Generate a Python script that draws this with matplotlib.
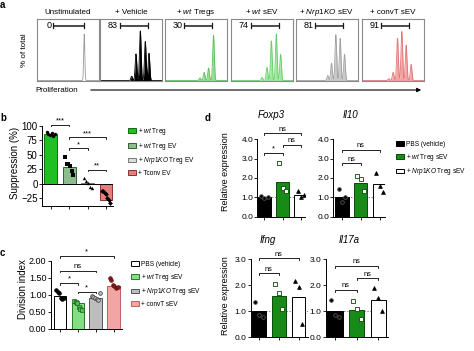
import numpy as np
import matplotlib
matplotlib.use("Agg")
import matplotlib.pyplot as plt
from matplotlib.patches import Patch
from matplotlib.lines import Line2D

plt.rcParams['font.family'] = ['Liberation Sans', 'DejaVu Sans']
plt.rcParams['mathtext.fontset'] = 'custom'
plt.rcParams['mathtext.rm'] = 'Liberation Sans'
plt.rcParams['mathtext.it'] = 'Liberation Sans:italic'

W, H = 474, 351
fig = plt.figure(figsize=(W / 100, H / 100), dpi=100)

# ---------------- DATA ----------------
# Panel a: flow histograms (peak positions / heights as fraction of box)
hist_titles = ["Unstimulated", "+ Vehicle", "+ $\\mathit{wt}$ Tregs", "+ $\\mathit{wt}$ sEV",
               "+ $\\mathit{Nrp1KO}$ sEV", "+ convT sEV"]
hist_pct = [0, 83, 30, 74, 81, 91]
peak_pos = [[0.77],
            [0.51, 0.58, 0.65, 0.73, 0.79],
            [0.57, 0.64, 0.71, 0.79],
            [0.50, 0.58, 0.65, 0.73, 0.80],
            [0.52, 0.58, 0.65, 0.72, 0.79],
            [0.44, 0.51, 0.58, 0.65, 0.72, 0.80]]
peak_h = [[0.75],
          [0.07, 0.43, 0.80, 0.63, 0.44],
          [0.04, 0.13, 0.20, 0.73],
          [0.05, 0.21, 0.64, 0.75, 0.42],
          [0.08, 0.28, 0.74, 0.68, 0.42],
          [0.03, 0.13, 0.68, 0.79, 0.57, 0.26]]

# Panel b: suppression
b_labels = ["+ $\\mathit{wt}$ Treg", "+ $\\mathit{wt}$ Treg EV", "+ $\\mathit{Nrp1KO}$ Treg EV", "+ Tconv EV"]
b_means = [86, 29, 1.5, -28]
b_points = [[89, 86, 84, 88, 83, 86],
            [46, 34, 35, 30, 22, 15],
            [10, 5, 1, -6, -7.5],
            [-12, -13, -15, -18, -25, -27, -33]]
b_sig = [(0, 1, 102, "***"), (1, 3, 80, "***"), (1, 2, 61, "*"), (2, 3, 24, "**")]
b_yticks = [-25, 0, 25, 50, 75, 100]

# Panel c: division index
c_labels = ["PBS (vehicle)", "+ $\\mathit{wt}$ Treg sEV", "+ $\\mathit{Nrp1KO}$ Treg sEV", "+ convT sEV"]
c_means = [0.97, 0.75, 0.92, 1.27]
c_points = [[1.15, 1.08, 1.05, 0.90, 0.88, 0.92],
            [0.82, 0.78, 0.75, 0.65, 0.60, 0.55],
            [0.98, 0.95, 0.90, 0.88, 0.85, 1.05],
            [1.50, 1.45, 1.30, 1.25, 1.20, 1.22]]
c_sig = [(0, 3, 2.15, "*"), (0, 2, 1.71, "ns"), (0, 1, 1.34, "*"), (1, 2, 1.10, "*")]
c_yticks = [0.0, 0.5, 1.0, 1.5, 2.0]

# Panel d: relative expression
d_labels = ["PBS (vehicle)", "+ $\\mathit{wt}$ Treg sEV", "+ $\\mathit{Nrp1KO}$ Treg sEV"]
d_genes = ["Foxp3", "Il10", "Ifng", "Il17a"]
d_means = {"Foxp3": [1.0, 1.8, 1.1], "Il10": [1.0, 1.75, 1.7],
           "Ifng": [1.0, 1.6, 1.55], "Il17a": [1.0, 1.05, 1.45]}
d_points = {"Foxp3": [[1.05, 0.95, 1.0], [2.75, 1.5, 1.3], [1.35, 1.0, 1.1]],
            "Il10": [[1.45, 0.75, 1.0], [2.1, 1.95, 1.3], [2.25, 1.6, 1.25]],
            "Ifng": [[1.35, 0.85, 0.8], [2.05, 1.7, 1.1], [2.15, 1.95, 0.5]],
            "Il17a": [[1.45, 0.85, 0.8], [1.4, 1.1, 0.7], [1.9, 1.5, 1.0]]}
d_sig = {"Foxp3": [(0, 2, 4.31, "ns"), (1, 2, 3.70, "ns"), (0, 1, 3.28, "*")],
         "Il10": [(0, 2, 3.45, "ns"), (0, 1, 2.76, "ns")],
         "Ifng": [(0, 2, 3.04, "ns"), (0, 1, 2.46, "ns")],
         "Il17a": [(0, 2, 2.75, "ns"), (1, 2, 2.27, "ns"), (0, 1, 1.82, "ns")]}

# ---------------- HELPERS ----------------
def ax_px(x0, y0, x1, y1):
    return fig.add_axes([x0 / W, 1 - y1 / H, (x1 - x0) / W, (y1 - y0) / H])

def style_ax(ax):
    for s in ["top", "right"]:
        ax.spines[s].set_visible(False)
    for s in ["left", "bottom"]:
        ax.spines[s].set_linewidth(0.7)
    ax.tick_params(length=2, width=0.6, labelsize=5.3, pad=1.5)

def sig(ax, i, j, y, txt, h, fs=5):
    ax.plot([i, i, j, j], [y - h, y, y, y - h], color="k", lw=0.6, clip_on=False)
    ax.text((i + j) / 2, y + h * 0.3, txt, ha="center", va="bottom", fontsize=fs, clip_on=False)

def jitter(n, w=0.22):
    return np.linspace(-w, w, n) if n > 1 else np.zeros(1)

# ---------------- PANEL A ----------------
fig.text(0.0, 1.0, "a", fontsize=7, fontweight="bold", va="top", ha="left")
box_left = [36.5, 100.0, 164.5, 231.0, 295.5, 361.5]
face = ["white", "black", "#90e090", "#9ee89e", "#c9c9c9", "#f5a3a3"]
edge = ["#9a9a9a", "black", "#5ac05a", "#66d066", "#a0a0a0", "#e07777"]
xs = np.linspace(0, 1, 800)
for k in range(6):
    ax = ax_px(box_left[k], 18.5, box_left[k] + 62, 80.5)
    y = np.zeros_like(xs)
    sd = 0.009 if k == 0 else 0.013
    for p, h in zip(peak_pos[k], peak_h[k]):
        y = y + h * np.exp(-0.5 * ((xs - p) / sd) ** 2)
    ax.fill_between(xs, 0, y, color=face[k], lw=0)
    ax.plot(xs, y, color=edge[k], lw=0.6)
    ax.set_xlim(0, 1)
    ax.set_ylim(0, 1)
    ax.set_xticks([])
    ax.set_yticks([])
    for s in ax.spines.values():
        s.set_color("#8a8a8a")
        s.set_linewidth(0.8)
    x_start = 0.27 if k == 0 else 0.32
    ax.text(x_start - 0.03, 0.88, str(hist_pct[k]), ha="right", va="center", fontsize=6.5)
    ax.plot([x_start, 0.77], [0.88, 0.88], color="#1a1a1a", lw=1.1, solid_capstyle="butt", zorder=6)
    ax.plot([x_start, x_start], [0.84, 0.92], color="#1a1a1a", lw=0.9, zorder=6)
    ax.plot([0.77, 0.77], [0.84, 0.92], color="#1a1a1a", lw=0.9, zorder=6)
    fig.text((box_left[k] + 31) / W, 1 - 12 / H, hist_titles[k], ha="center", va="center", fontsize=5.8)
fig.text(24 / W, 1 - 50 / H, "% of total", rotation=90, ha="center", va="center", fontsize=5.8)
fig.text(35 / W, 1 - 90 / H, "Proliferation", ha="left", va="center", fontsize=5.8)
fig.add_artist(matplotlib.patches.FancyArrowPatch((88 / W, 1 - 90 / H), (424 / W, 1 - 90 / H),
                                                   transform=fig.transFigure, arrowstyle="-|>",
                                                   mutation_scale=6, lw=0.8, color="black"))

# ---------------- PANEL B ----------------
fig.text(0.0, 1 - 113 / H, "b", fontsize=7, fontweight="bold", va="top", ha="left")
axb = ax_px(41.7, 120, 113, 206)
style_ax(axb)
b_face = ["#22bf22", "#8dbd8d", "#dcdcdc", "#e28080"]
b_edge = ["#0d6b0d", "#2f5f2f", "#777777", "#8b3030"]
b_mark = ["o", "s", "^", "D"]
for i in range(4):
    axb.bar(i, b_means[i], width=0.7, color=b_face[i], edgecolor=b_edge[i], lw=0.7, zorder=2)
    pts = b_points[i]
    axb.scatter(i + jitter(len(pts)), pts, s=6, marker=b_mark[i], color="black", zorder=3, lw=0)
axb.axhline(0, color="black", lw=0.7, zorder=4)
axb.set_xlim(-0.49, 3.38)
axb.set_ylim(-38, 110)
axb.spines["left"].set_bounds(-38, 100)
axb.set_yticks(b_yticks)
axb.set_xticks(range(4))
axb.set_xticklabels([])
axb.tick_params(axis="y", labelsize=7, pad=1)
for (i, j, y, t) in b_sig:
    sig(axb, i, j, y, t, 2.5, fs=5.5)
axb.set_ylabel("Suppression (%)", fontsize=7, labelpad=1)
fig.legend(handles=[Patch(facecolor=b_face[i], edgecolor=b_edge[i], lw=0.7) for i in range(4)],
           labels=b_labels, loc="upper left", bbox_to_anchor=(128 / W, 1 - 126 / H), frameon=False,
           fontsize=4.7, handlelength=1.3, handleheight=0.7, handletextpad=0.3, labelspacing=0.55,
           borderaxespad=0, borderpad=0)

# ---------------- PANEL C ----------------
fig.text(0.0, 1 - 248 / H, "c", fontsize=7, fontweight="bold", va="top", ha="left")
axc = ax_px(50.7, 249, 122, 329)
style_ax(axc)
c_face = ["white", "#84df84", "#bdbdbd", "#f2a5a5"]
c_edge = ["black", "#2a7a2a", "#555555", "#c06060"]
c_pface = ["black", "#4cc04c", "#bbbbbb", "#8b1a1a"]
c_pedge = ["black", "#1f5f1f", "#333333", "#5a0f0f"]
c_mark = ["o", "s", "o", "o"]
for i in range(4):
    axc.bar(i, c_means[i], width=0.7, color=c_face[i], edgecolor=c_edge[i], lw=0.7, zorder=2)
    pts = c_points[i]
    axc.scatter(i + jitter(len(pts)), pts, s=7, marker=c_mark[i], facecolor=c_pface[i],
                edgecolor=c_pedge[i], lw=0.5, zorder=3)
axc.set_xlim(-0.52, 3.47)
axc.set_ylim(0, 2.35)
axc.spines["left"].set_bounds(0, 2.0)
axc.set_yticks(c_yticks)
axc.set_yticklabels([f"{v:.2f}" for v in c_yticks])
axc.set_xticks(range(4))
axc.set_xticklabels([])
axc.tick_params(axis="y", labelsize=6.5, pad=1)
for (i, j, y, t) in c_sig:
    sig(axc, i, j, y, t, 0.05, fs=5.5)
axc.set_ylabel("Division index", fontsize=7, labelpad=1)
fig.legend(handles=[Patch(facecolor=c_face[i], edgecolor=c_edge[i], lw=0.7) for i in range(4)],
           labels=c_labels, loc="upper left", bbox_to_anchor=(131 / W, 1 - 261 / H), frameon=False,
           fontsize=4.7, handlelength=1.3, handleheight=0.7, handletextpad=0.3, labelspacing=0.55,
           borderaxespad=0, borderpad=0)

# ---------------- PANEL D ----------------
fig.text(205 / W, 1 - 113 / H, "d", fontsize=7, fontweight="bold", va="top", ha="left")
d_face = ["black", "#178a17", "white"]
d_edge = ["black", "#0a4a0a", "black"]
d_pface = ["black", "white", "black"]
d_pedge = ["#555555", "#0a4a0a", "black"]
d_mark = ["o", "s", "^"]
d_boxes = {"Foxp3": (257.3, 127.5, 305, 216.7, -0.38, 2.23, 4.6, [0, 1, 2, 3, 4], 4),
           "Il10": (333.3, 127.5, 385, 216.7, -0.46, 2.28, 4.6, [0, 1, 2, 3, 4], 4),
           "Ifng": (250.5, 251.5, 308, 337.3, -0.43, 2.48, 3.3, [0, 1, 2, 3], 3),
           "Il17a": (325.5, 251.5, 388, 337.3, -0.44, 2.45, 3.3, [0, 1, 2, 3], 3)}
d_titles = {"Foxp3": (271.7, 115), "Il10": (350, 115), "Ifng": (268, 240), "Il17a": (349, 240)}
for g in d_genes:
    x0, y0, x1, y1, xl, xr, yt, ticks, ymax = d_boxes[g]
    ax = ax_px(x0, y0, x1, y1)
    style_ax(ax)
    ax.axhline(1.0, color="#888888", lw=0.7, ls=(0, (1.5, 1.5)), zorder=1)
    for i in range(3):
        ax.bar(i, d_means[g][i], width=0.7, color=d_face[i], edgecolor=d_edge[i], lw=0.7, zorder=2)
        pts = d_points[g][i]
        ax.scatter(i + jitter(len(pts), 0.18), pts, s=7, marker=d_mark[i], facecolor=d_pface[i],
                   edgecolor=d_pedge[i], lw=0.6, zorder=3)
    ax.set_xlim(xl, xr)
    ax.set_ylim(0, yt)
    ax.spines["left"].set_bounds(0, ymax)
    ax.set_yticks(ticks)
    ax.set_yticklabels([f"{v:.1f}" for v in ticks])
    ax.set_xticks(range(3))
    ax.set_xticklabels([])
    ax.tick_params(axis="y", labelsize=6, pad=1)
    for (i, j, y, t) in d_sig[g]:
        sig(ax, i, j, y, t, 0.1 * yt / 4.6, fs=5.3)
    tx, ty = d_titles[g]
    fig.text(tx / W, 1 - ty / H, g, ha="center", va="center", fontsize=7, style="italic")
fig.text(225 / W, 1 - 172 / H, "Relative expression", rotation=90, ha="center", va="center", fontsize=6.5)
fig.text(225 / W, 1 - 296 / H, "Relative expression", rotation=90, ha="center", va="center", fontsize=6.5)
fig.legend(handles=[Patch(facecolor=d_face[i], edgecolor=d_edge[i], lw=0.7) for i in range(3)],
           labels=d_labels, loc="upper left", bbox_to_anchor=(396 / W, 1 - 141 / H), frameon=False,
           fontsize=4.7, handlelength=1.3, handleheight=0.7, handletextpad=0.3, labelspacing=0.55,
           borderaxespad=0, borderpad=0)

fig.savefig("out.png", dpi=100)
